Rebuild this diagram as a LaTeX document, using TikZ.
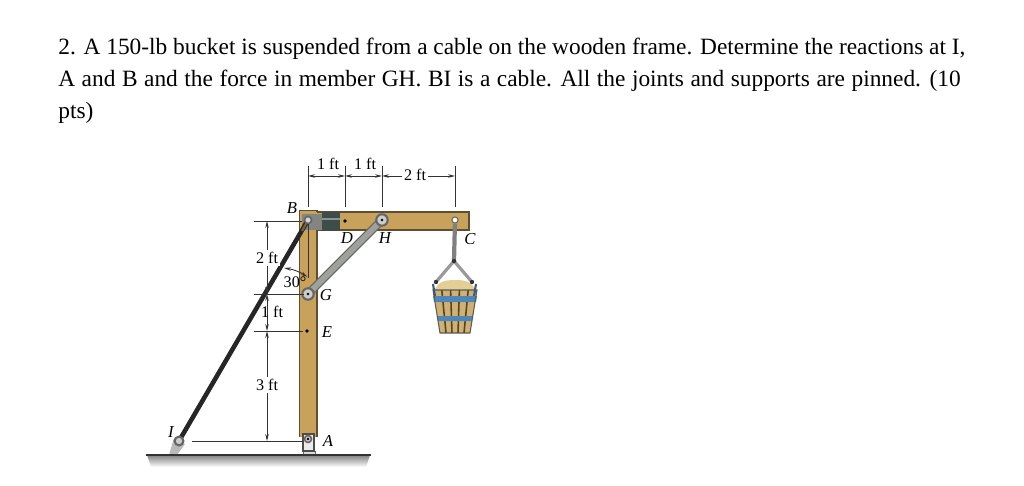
\documentclass[tikz,border=0pt]{standalone}
\usepackage{fontspec}
\setmainfont{Liberation Serif}
\usetikzlibrary{arrows.meta,calc,positioning}
\definecolor{wood}{HTML}{C8A25A}
\definecolor{woodedge}{HTML}{5E4E34}
\definecolor{steel}{HTML}{9A9C98}
\definecolor{collar}{HTML}{3E4C4A}
\definecolor{bluebar}{HTML}{4F86B8}
\definecolor{sand}{HTML}{E3CF94}
\definecolor{stave}{HTML}{B59A57}
\tikzset{
	line/.style		={font=\fontsize{13.3}{15}\selectfont,anchor=base west,inner sep=0pt},
	letter/.style	={font=\fontsize{9.5}{11}\selectfont\itshape,inner sep=0pt},
	size/.style		={font=\fontsize{9.2}{10}\selectfont,inner sep=1pt,fill=white},
	extline/.style	={black!80,line width=0.5pt},
	dimline/.style	={black!80,line width=0.5pt,{Stealth[length=4pt,width=2pt]}-{Stealth[length=4pt,width=2pt]}},
	pinnode/.style	={circle,draw=black!60,fill=steel!50,line width=1.2pt,minimum size=6.5pt,inner sep=0pt},
	dotnode/.style	={circle,fill=black,minimum size=2.2pt,inner sep=0pt},
	member/.style	={fill=wood}
}
\begin{document}
\begin{tikzpicture}[x=0.02cm,y=-0.02cm]
	\useasboundingbox (0,0) rectangle (1024,486);

	\node[line] (line1) at (58,55)	{2. A 150-lb bucket is suspended from a cable on the wooden frame. Determine the reactions at I,};
	\node[line] (line2) at (58,87)	{\spaceskip=3.72pt A and B and the force in member GH. BI is a cable. All the joints and supports are pinned. (10};
	\node[line] (line3) at (58,119)	{pts)};

	% ground
	\shade[top color=black!50,bottom color=white] (147,455) -- (370,455) -- (366,467) -- (151,467) -- cycle;

	% frame
	\fill[member] (299,210) rectangle (317,437);
	\draw[woodedge,line width=1.2pt] (317,210) -- (317,212);
	\draw[woodedge,line width=1.2pt] (317,230) -- (317,437);
	\draw[woodedge,line width=0.5pt] (299,437) -- (299,210) -- (317,210);
	\fill[member] (317,212) rectangle (469,230);
	\draw[woodedge,line width=0.7pt] (317,212) -- (469,212) -- (469,230) -- (317,230);
	\fill[steel!85!black] (302,214) rectangle (323,230);
	\fill[collar] (322,212) rectangle (340,231);
	\fill[collar!60!white] (322,218) rectangle (340,220);

	\node[dotnode]									(D) at (345,221) {};
	\node[pinnode,minimum size=3.5pt,line width=0.6pt,fill=white] (C) at (455,220) {};
	\node[dotnode]									(E) at (307,331) {};

	% support A
	\draw[black!60,fill=black!15,line width=0.5pt] (303,451) rectangle (315,455);
	\draw[black!70,fill=black!8,line width=0.8pt] (303,434) rectangle (314,451);

	% support I
	\coordinate (I1) at (169,455);
	\coordinate (I2) at (177,455);
	\fill[steel!70] (I1) -- (174,438) -- (185,444) -- (I2) -- cycle;

	% member GH and cable BI
	\coordinate (Gc) at (308,294);
	\coordinate (Hc) at (382,220);
	\draw[black!60,line width=4.8pt] (Gc) -- (Hc);
	\draw[steel!95,line width=3.4pt] (Gc) -- (Hc);
	\draw[black!85,line width=2.6pt] (308,220) -- (179,441);
	\draw[wood!60!black,line width=1.2pt] (308,220) -- (302,231);

	\node[pinnode,minimum size=4pt,fill=steel!40,line width=0.9pt] (B) at (308,220) {};
	\node[pinnode]									(H) at (Hc) {};
	\node[pinnode]									(G) at (Gc) {};
	\node[pinnode,minimum size=5pt,line width=1.2pt] (I) at (179,441) {};
	\node[pinnode,minimum size=4pt,line width=0.9pt] (A) at (308,439) {};
	\node[dotnode,minimum size=1.6pt] at (G) {};
	\node[dotnode,minimum size=1.6pt] at (H) {};
	\node[dotnode,minimum size=1.6pt] at (A) {};

	% ground line
	\coordinate (g1) at (146,455);
	\coordinate (g2) at (371,455);
	\draw[black!80,line width=0.9pt] (g1) -- (g2);

	% bucket
	\coordinate (ring) at (454,261);
	\coordinate (earL) at (436,282);
	\coordinate (earR) at (472,282);
	\draw[black!50,line width=2.4pt] (C) -- (ring);
	\draw[black!40,line width=1.8pt] (earL) -- (ring) -- (earR);
	\fill[black!80] (ring) circle (2.2);
	\fill[sand] (434,291) .. controls (438,281) and (446,280) .. (455,280) .. controls (464,280) and (472,281) .. (476,291) -- cycle;
	\fill[wood!85!white] (433,290) -- (477,290) -- (470,333) -- (440,333) -- cycle;
	\foreach \i in {1,...,4}
		\draw[stave!45!black,line width=0.9pt] ({433+\i*8.8},290) -- ({440+\i*6},333);
	\fill[bluebar] (433,296) -- (477,296) -- (476,302) -- (434,302) -- cycle;
	\fill[bluebar] (437,316) -- (473,316) -- (472,321) -- (438,321) -- cycle;
	\draw[black!65,line width=0.6pt] (433,290) -- (477,290) -- (470,333) -- (440,333) -- cycle;
	\draw[bluebar!70!black,line width=1.2pt] (433,284) -- (435,296);
	\draw[bluebar!70!black,line width=1.2pt] (476,284) -- (474,296);
	\fill[black!80] (earL) circle (2.2);
	\fill[black!80] (earR) circle (2.2);

	% letters
	\node[letter] (lblB) at (292,208) {B};
	\node[letter] (lblD) at (347,238) {D};
	\node[letter] (lblH) at (385,238) {H};
	\node[letter] (lblC) at (470,239) {C};
	\node[letter] (lblG) at (326,295) {G};
	\node[letter] (lblE) at (327,332) {E};
	\node[letter] (lblA) at (328,441) {A};
	\node[letter] (lblI) at (171,432) {I};

	% top dimensions
	\foreach \name/\x in {t1/308,t2/345,t3/382,t4/455} {
		\coordinate (\name) at (\x,176);
		\draw[extline] (\x,166) -- (\x,207);
	}
	\draw[dimline] (t1) -- (t2);
	\draw[dimline] (t2) -- (t3);
	\draw[dimline] (t3) -- (t4);
	\node[size,fill=none]	(ft1) at (328,164) {1 ft};
	\node[size,fill=none]	(ft2) at (365,164) {1 ft};
	\node[size]				(ft3) at (415,175) {2 ft};

	% left dimensions
	\foreach \name/\y/\xs/\xe in {l1/221/254/302,l2/294/254/304,l3/331/254/303,l4/441/192/303} {
		\coordinate (\name) at (267,\y);
		\draw[extline] (\xs,\y) -- (\xe,\y);
	}
	\draw[dimline] (l1) -- (l2);
	\draw[dimline] (l2) -- (l3);
	\draw[dimline] (l3) -- (l4);
	\node[size]				(ft4) at (267,258) {2 ft};
	\node[size,fill=none]	(ft5) at (272,312) {1 ft};
	\node[size]				(ft6) at (267,385) {3 ft};

	% angle
	\coordinate (a1) at (284,268);
	\coordinate (a2) at (307.5,277);
	\draw[extline] (B) -- (308,278);
	\draw[dimline] (a1) to[bend left=12] (a2);
	\node[size,fill=none,inner sep=0pt] (deg) at (295,282) {30°};
\end{tikzpicture}
\end{document}
